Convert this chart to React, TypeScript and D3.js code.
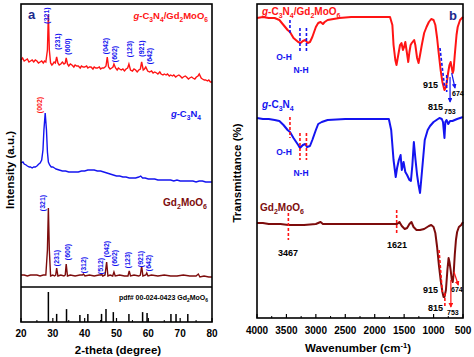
import React from "react";
import * as d3 from "d3";

// ---------- XRD data (2-theta, intensity a.u.) ----------
const xrdComposite: [number, number][] = [
  [20, 240], [20.5, 242], [21, 239], [21.5, 240], [22, 241], [22.5, 238], [23, 239], [23.5, 240], [24, 238], [24.5, 240],
  [25, 239], [25.5, 237], [26, 238], [26.5, 239], [27, 237], [27.4, 239], [27.8, 238], [28.3, 250], [28.6, 286], [28.9, 250],
  [29.3, 237], [29.7, 235], [30, 236], [30.4, 238], [30.8, 237], [31.2, 243], [31.6, 237], [32, 235], [32.5, 236], [33, 238],
  [33.5, 236], [33.9, 237], [34.2, 242], [34.6, 236], [35, 234], [35.5, 236], [36, 235], [36.6, 233], [37, 235], [37.5, 234],
  [38, 234], [38.6, 232], [39, 234], [39.5, 233], [40, 233], [40.6, 234], [41, 232], [41.5, 233], [42, 233], [42.6, 231],
  [43, 233], [43.5, 232], [44, 232], [44.6, 233], [45, 231], [45.5, 232], [46, 232], [46.4, 233], [46.7, 234], [47.1, 243],
  [47.5, 233], [48, 231], [48.5, 232], [48.9, 233], [49.2, 236], [49.7, 232], [50.2, 230], [50.6, 232], [51, 231], [51.5, 230],
  [52, 231], [52.5, 229], [53, 231], [53.5, 232], [53.9, 236], [54.4, 230], [55, 229], [55.5, 231], [56, 230], [56.5, 228],
  [57, 230], [57.5, 231], [57.9, 238], [58.4, 230], [58.8, 231], [59.2, 233], [59.8, 229], [60.4, 228], [61, 229], [61.5, 227],
  [62, 228], [62.6, 227], [63, 226], [63.6, 228], [64, 226], [64.6, 225], [65, 226], [65.6, 225], [66, 226], [66.6, 224],
  [67, 225], [67.6, 224], [68, 225], [68.6, 223], [69, 224], [69.6, 225], [70, 224], [70.6, 222], [71, 223], [71.6, 224],
  [72, 223], [72.6, 221], [73, 222], [73.6, 223], [74, 222], [74.6, 221], [75.1, 223], [75.6, 224], [76, 226], [76.6, 222],
  [77, 221], [77.6, 220], [78, 220], [78.6, 219], [79, 220], [79.5, 218], [80, 218],
];
const xrdGCN: [number, number][] = [
  [20, 137], [20.6, 138], [21, 136], [21.6, 135], [22, 134], [22.6, 133], [23, 133], [23.5, 132], [24, 133], [24.5, 133],
  [25, 134], [25.6, 136], [26, 137], [26.5, 140], [26.9, 150], [27.2, 170], [27.6, 187], [28, 170], [28.3, 148], [28.6, 138],
  [29, 135], [29.5, 133], [30, 133], [30.5, 132], [31, 131], [32, 130], [33, 129], [34, 129], [35, 128], [36, 128],
  [37, 128], [38, 128], [39, 129], [40, 129], [41, 130], [42, 130], [43, 130], [44, 129], [45, 129], [46, 128],
  [47, 127], [48, 126], [49, 125], [50, 124], [51, 124], [52, 123], [53, 123], [54, 122], [55, 122], [56, 122],
  [57, 123], [57.6, 124], [58.2, 122], [59, 122], [60, 121], [61, 121], [62, 121], [63, 120], [64, 120], [65, 120],
  [66, 120], [67, 120], [68, 119], [69, 120], [70, 119], [71, 119], [72, 119], [73, 119], [74, 119], [75, 118],
  [76, 119], [77, 119], [78, 118], [79, 118], [80, 118],
];
const xrdGdMoO: [number, number][] = [
  [20, 25], [21, 25], [22, 24], [23, 25], [24, 25], [25, 25], [26, 24], [27, 25], [27.8, 25], [28.3, 50],
  [28.6, 92], [28.9, 50], [29.3, 24], [30, 25], [30.5, 24], [30.9, 25], [31.2, 32], [31.6, 24], [32.5, 25], [33.5, 24],
  [33.9, 25], [34.2, 36], [34.6, 24], [35.5, 25], [37, 24], [38.5, 25], [39.3, 25], [39.6, 26], [40.1, 24], [41.5, 25],
  [43, 24], [44.5, 25], [45.1, 25], [45.3, 26], [45.7, 24], [46.4, 25], [46.9, 38], [47.3, 24], [48, 25], [48.8, 24],
  [49.2, 28], [49.6, 24], [51, 25], [52.5, 24], [53.6, 24], [54, 29], [54.4, 24], [55.5, 25], [57, 24], [57.5, 25],
  [57.9, 34], [58.3, 24], [59.2, 25], [59.5, 27], [59.9, 24], [61, 25], [63, 24], [65, 25], [67, 24], [69, 24],
  [71, 25], [73, 24], [75, 24], [75.7, 26], [76.2, 23], [77.5, 24], [79, 23], [80, 23],
];
// Reference pattern pdf# 00-024-0423 (2-theta, relative intensity %)
const refPos = [28.6, 31.2, 34.3, 38.5, 41.0, 45.3, 46.7, 49.0, 53.9, 58.2, 59.6, 67.1, 68.7, 72.4];
const refInt = [100, 27, 43, 23, 27, 27, 43, 33, 27, 33, 30, 27, 27, 27];

// Peak index labels (hkl, label 2-theta, label level)
const compLabels: [string, number, number][] = [
  ["(321)", 28.1, 284.5], ["(231)", 31.5, 258.5], ["(600)", 34.7, 253.5], ["(042)", 46.7, 254],
  ["(602)", 49.5, 246], ["(123)", 54.2, 251], ["(921)", 58.0, 251.5], ["(642)", 60.5, 244],
];
const gdLabels: [string, number, number][] = [
  ["(321)", 26.9, 97], ["(231)", 31.3, 42], ["(600)", 34.5, 48], ["(312)", 39.5, 35], ["(512)", 45.1, 34],
  ["(042)", 47.0, 51], ["(602)", 49.5, 42], ["(123)", 53.6, 40], ["(921)", 57.7, 41], ["(642)", 60.2, 37],
];
const gcnLabel: [string, number, number] = ["(002)", 25.7, 195];

const xrdTicks = [20, 30, 40, 50, 60, 70, 80];

// ---------- FTIR data (wavenumber, transmittance offset a.u.) ----------
const ftirComposite: [number, number][] = [
  [4000, 300], [3900, 301], [3800, 300], [3700, 300], [3620, 298], [3550, 293], [3480, 288], [3440, 286], [3380, 280],
  [3300, 276], [3260, 275], [3220, 277], [3180, 278], [3140, 275], [3100, 276], [3060, 281], [3000, 291], [2960, 295],
  [2920, 296], [2880, 294], [2850, 296], [2800, 298], [2600, 300], [2400, 301], [2200, 301], [2000, 301], [1800, 301],
  [1740, 301], [1700, 293], [1680, 273], [1650, 258], [1630, 253], [1600, 263], [1570, 273], [1545, 275], [1520, 268],
  [1500, 271], [1480, 276], [1460, 268], [1430, 256], [1410, 266], [1390, 273], [1370, 275], [1330, 278], [1310, 273],
  [1280, 260], [1255, 255], [1230, 263], [1200, 273], [1160, 285], [1120, 291], [1080, 296], [1040, 299], [1000, 298],
  [970, 293], [940, 280], [915, 266], [880, 248], [850, 236], [815, 228], [790, 231], [770, 238], [753, 245],
  [730, 253], [710, 256], [690, 250], [674, 245], [660, 248], [640, 263], [610, 283], [590, 291], [550, 298], [500, 301],
];
const ftirGCN: [number, number][] = [
  [4000, 200], [3900, 199], [3800, 199], [3700, 198], [3620, 197], [3550, 193], [3480, 188], [3440, 186], [3380, 180],
  [3300, 173], [3270, 170], [3220, 173], [3180, 174], [3150, 171], [3100, 172], [3060, 178], [3000, 188], [2960, 194],
  [2900, 196], [2850, 197], [2800, 198], [2500, 199], [2200, 199], [2000, 199], [1800, 199], [1760, 199], [1720, 188],
  [1680, 158], [1643, 141], [1620, 150], [1590, 158], [1560, 163], [1540, 148], [1510, 156], [1480, 146], [1450, 143],
  [1410, 138], [1385, 137], [1360, 153], [1335, 176], [1310, 160], [1280, 143], [1255, 133], [1230, 125], [1210, 138],
  [1180, 158], [1150, 178], [1100, 188], [1060, 192], [1000, 196], [950, 198], [900, 200], [860, 199], [840, 196],
  [815, 180], [800, 196], [780, 198], [750, 194], [720, 197], [680, 197], [640, 198], [600, 199], [550, 200], [500, 201],
];
const ftirGdMoO: [number, number][] = [
  [4000, 95], [3900, 95], [3800, 94], [3700, 94], [3600, 94], [3467, 93], [3400, 93], [3200, 93], [3000, 94],
  [2920, 96], [2880, 94], [2800, 94], [2500, 94], [2200, 94], [2000, 94], [1800, 94], [1700, 94], [1621, 94],
  [1580, 96], [1540, 92], [1490, 89], [1450, 90], [1410, 94], [1376, 96], [1340, 91], [1290, 88], [1230, 88],
  [1160, 89], [1080, 92], [1040, 93], [1000, 91], [970, 85], [940, 71], [910, 53], [880, 38], [850, 26], [830, 21],
  [815, 21], [790, 28], [765, 48], [745, 60], [730, 56], [710, 48], [690, 38], [674, 36], [660, 43], [640, 63],
  [620, 78], [600, 86], [570, 91], [530, 93], [500, 96],
];
const ftirTicks = [4000, 3500, 3000, 2500, 2000, 1500, 1000, 500];

// FTIR annotation dashed lines: [w top, T top, w bottom, T bottom]
const compDash: [number, number, number, number][] = [
  [3440, 298, 3440, 284], [3270, 290, 3270, 265], [3160, 290, 3160, 265], [891, 270, 813, 231], [777, 243, 777, 226],
];
const gcnDash: [number, number, number, number][] = [
  [3440, 201, 3440, 180], [3270, 185, 3270, 158], [3160, 185, 3160, 158],
];
const gdDash: [number, number, number, number][] = [
  [3467, 105, 3467, 78], [1627, 108, 1627, 83], [907, 68, 851, 26], [808, 25, 808, 11],
];
const compArrows: [number, number, number, number][] = [[720, 241, 720, 216], [692, 245, 636, 230]];
const gdArrows: [number, number, number, number][] = [[706, 38, 706, 11], [653, 46, 580, 33]];

const W = 474, H = 357;
const FONT = "'Liberation Sans', Arial, Helvetica, sans-serif";
const RED = "#ff1414";
const BLUE = "#1414f0";
const DRED = "#7d0c0c";
const NAVY = "#1c2a8c";

function chem(s: string, size: number, italicG = false) {
  const out: React.ReactNode[] = [];
  let shifted = false;
  let i = 0, k = 0;
  while (i < s.length) {
    if (s[i] === "_") {
      out.push(<tspan key={k++} fontSize={size * 0.7} dy={size * 0.3}>{s[i + 1]}</tspan>);
      shifted = true;
      i += 2;
    } else {
      let j = i;
      while (j < s.length && s[j] !== "_") j++;
      const seg = s.slice(i, j);
      if (italicG && i === 0 && seg.startsWith("g")) {
        out.push(<tspan key={k++} fontStyle="italic">g</tspan>);
        out.push(<tspan key={k++}>{seg.slice(1)}</tspan>);
      } else {
        out.push(<tspan key={k++} fontSize={size} dy={shifted ? -size * 0.3 : 0}>{seg}</tspan>);
      }
      shifted = false;
      i = j;
    }
  }
  return out;
}

export default function App() {
  // left panel scales
  const xL = d3.scaleLinear().domain([20, 80]).range([21, 212]);
  const yL = d3.scaleLinear().domain([13, 296]).range([287, 4]);
  const yRef = d3.scaleLinear().domain([0, 100]).range([322, 292]);
  const lineL = d3.line<[number, number]>().x((d) => xL(d[0])).y((d) => yL(d[1]));

  // right panel scales
  const xR = d3.scaleLinear().domain([4000, 500]).range([257, 463]);
  const yR = d3.scaleLinear().domain([0, 314]).range([318, 4]);
  const lineR = d3.line<[number, number]>().x((d) => xR(d[0])).y((d) => yR(d[1]));

  const minorL = d3.range(25, 80, 10);
  const minorR = d3.range(3750, 500, -500);

  const rotLabel = (t: string, x: number, y: number, color: string, key: string | number) => (
    <text key={key} transform={`translate(${x},${y}) rotate(-90)`} textAnchor="middle" dy="0.35em"
      fontSize={7} fontWeight="bold" fill={color} fontFamily={FONT}>{t}</text>
  );

  const dash = (d: [number, number, number, number], color: string, key: number | string) => (
    <line key={key} x1={xR(d[0])} y1={yR(d[1])} x2={xR(d[2])} y2={yR(d[3])} stroke={color}
      strokeWidth={1.6} strokeDasharray="3,2" />
  );
  const arrow = (d: [number, number, number, number], color: string, id: string, key: number | string) => (
    <line key={key} x1={xR(d[0])} y1={yR(d[1])} x2={xR(d[2])} y2={yR(d[3])} stroke={color}
      strokeWidth={1.2} markerEnd={`url(#${id})`} />
  );

  return (
    <svg width={W} height={H} style={{ position: "absolute", left: 0, top: 0, background: "#fff" }}
      fontFamily={FONT}>
      <defs>
        <marker id="arrB" viewBox="0 0 6 6" refX="5" refY="3" markerWidth="4" markerHeight="4" orient="auto">
          <path d="M0,0 L6,3 L0,6 z" fill={BLUE} />
        </marker>
        <marker id="arrR" viewBox="0 0 6 6" refX="5" refY="3" markerWidth="4" markerHeight="4" orient="auto">
          <path d="M0,0 L6,3 L0,6 z" fill={RED} />
        </marker>
      </defs>
      <rect x={0} y={0} width={W} height={H} fill="#fff" />

      {/* ===== Left panel: XRD ===== */}
      <path d={lineL(xrdComposite) || ""} fill="none" stroke={RED} strokeWidth={1.4} />
      <path d={lineL(xrdGCN) || ""} fill="none" stroke={BLUE} strokeWidth={1.4} />
      <path d={lineL(xrdGdMoO) || ""} fill="none" stroke={DRED} strokeWidth={1.4} />
      {refPos.map((p, i) => (
        <line key={i} x1={xL(p)} x2={xL(p)} y1={yRef(0)} y2={yRef(refInt[i])} stroke="#000" strokeWidth={1.5} />
      ))}
      {compLabels.map((l, i) => rotLabel(l[0], xL(l[1]), yL(l[2]), BLUE, "c" + i))}
      {gdLabels.map((l, i) => rotLabel(l[0], xL(l[1]), yL(l[2]), BLUE, "g" + i))}
      {rotLabel(gcnLabel[0], xL(gcnLabel[1]), yL(gcnLabel[2]), RED, "gcn")}

      <rect x={21} y={4} width={191} height={318} fill="none" stroke="#000" strokeWidth={1.6} />
      <line x1={21} x2={212} y1={287} y2={287} stroke="#000" strokeWidth={1.6} />
      {xrdTicks.map((t) => (
        <g key={t}>
          <line x1={xL(t)} x2={xL(t)} y1={322} y2={318} stroke="#000" strokeWidth={1.2} />
          <text x={xL(t)} y={337} textAnchor="middle" fontSize={10} fontWeight="bold">{t}</text>
        </g>
      ))}
      {minorL.map((t) => (
        <line key={t} x1={xL(t)} x2={xL(t)} y1={322} y2={320} stroke="#000" strokeWidth={1} />
      ))}

      <text x={28} y={19} fontSize={13} fontWeight="bold" fill={NAVY}>a</text>
      <text x={208} y={19} textAnchor="end" fontSize={9.5} fontWeight="bold" fill={RED}>{chem("g-C_3N_4/Gd_2MoO_6", 9.5, true)}</text>
      <text x={201} y={117} textAnchor="end" fontSize={9.5} fontWeight="bold" fill={BLUE}>{chem("g-C_3N_4", 9.5, true)}</text>
      <text x={207} y={206} textAnchor="end" fontSize={10} fontWeight="bold" fill={DRED}>{chem("Gd_2MoO_6", 10)}</text>
      <text x={208} y={300} textAnchor="end" fontSize={7} fontWeight="bold" fill="#000">{chem("pdf# 00-024-0423 Gd_2MoO_6", 7)}</text>

      <text x={118} y={354} textAnchor="middle" fontSize={11.5} fontWeight="bold">2-theta (degree)</text>
      <text transform="translate(14,170) rotate(-90)" textAnchor="middle" fontSize={11.5} fontWeight="bold">Intensity (a.u.)</text>

      {/* ===== Right panel: FTIR ===== */}
      <path d={lineR(ftirComposite) || ""} fill="none" stroke={RED} strokeWidth={2} strokeLinejoin="round" />
      <path d={lineR(ftirGCN) || ""} fill="none" stroke={BLUE} strokeWidth={2} strokeLinejoin="round" />
      <path d={lineR(ftirGdMoO) || ""} fill="none" stroke={DRED} strokeWidth={2} strokeLinejoin="round" />

      {compDash.map((d, i) => dash(d, BLUE, "cd" + i))}
      {gcnDash.map((d, i) => dash(d, RED, "gd" + i))}
      {gdDash.map((d, i) => dash(d, RED, "dd" + i))}
      {compArrows.map((d, i) => arrow(d, BLUE, "arrB", "ca" + i))}
      {gdArrows.map((d, i) => arrow(d, RED, "arrR", "da" + i))}

      <rect x={257} y={4} width={206} height={314} fill="none" stroke="#000" strokeWidth={1.6} />
      {ftirTicks.map((t) => (
        <g key={t}>
          <line x1={xR(t)} x2={xR(t)} y1={318} y2={314} stroke="#000" strokeWidth={1.2} />
          <text x={xR(t)} y={334} textAnchor="middle" fontSize={10} fontWeight="bold">{t}</text>
        </g>
      ))}
      {minorR.map((t) => (
        <line key={t} x1={xR(t)} x2={xR(t)} y1={318} y2={316} stroke="#000" strokeWidth={1} />
      ))}

      <text x={453} y={20} textAnchor="middle" fontSize={13} fontWeight="bold" fill={NAVY}>b</text>
      <text x={262} y={15} fontSize={10} fontWeight="bold" fill={RED}>{chem("g-C_3N_4/Gd_2MoO_6", 10, true)}</text>
      <text x={262} y={108} fontSize={10} fontWeight="bold" fill={BLUE}>{chem("g-C_3N_4", 10, true)}</text>
      <text x={260} y={211} fontSize={10} fontWeight="bold" fill={DRED}>{chem("Gd_2MoO_6", 10)}</text>

      <text x={284} y={60} textAnchor="middle" fontSize={8.5} fontWeight="bold" fill={BLUE}>O-H</text>
      <text x={301} y={73} textAnchor="middle" fontSize={8.5} fontWeight="bold" fill={BLUE}>N-H</text>
      <text x={284} y={155} textAnchor="middle" fontSize={8.5} fontWeight="bold" fill={BLUE}>O-H</text>
      <text x={301} y={176} textAnchor="middle" fontSize={8.5} fontWeight="bold" fill={BLUE}>N-H</text>

      <text x={438} y={88} textAnchor="end" fontSize={9} fontWeight="bold">915</text>
      <text x={452} y={96} fontSize={7} fontWeight="bold">674</text>
      <text x={443} y={110} textAnchor="end" fontSize={9} fontWeight="bold">815</text>
      <text x={444} y={114} fontSize={7} fontWeight="bold">753</text>

      <text x={288} y={256} textAnchor="middle" fontSize={9} fontWeight="bold">3467</text>
      <text x={397} y={248} textAnchor="middle" fontSize={9} fontWeight="bold">1621</text>
      <text x={438} y={293} textAnchor="end" fontSize={9} fontWeight="bold">915</text>
      <text x={451} y={292} fontSize={7} fontWeight="bold">674</text>
      <text x={443} y={311} textAnchor="end" fontSize={9} fontWeight="bold">815</text>
      <text x={447} y={315} fontSize={7} fontWeight="bold">753</text>

      <text x={358} y={352} textAnchor="middle" fontSize={11.5} fontWeight="bold">
        Wavenumber (cm<tspan fontSize={7.5} dy={-4}>-1</tspan><tspan dy={4}>)</tspan>
      </text>
      <text transform="translate(241,173) rotate(-90)" textAnchor="middle" fontSize={11.5} fontWeight="bold">Transmittance (%)</text>
    </svg>
  );
}
